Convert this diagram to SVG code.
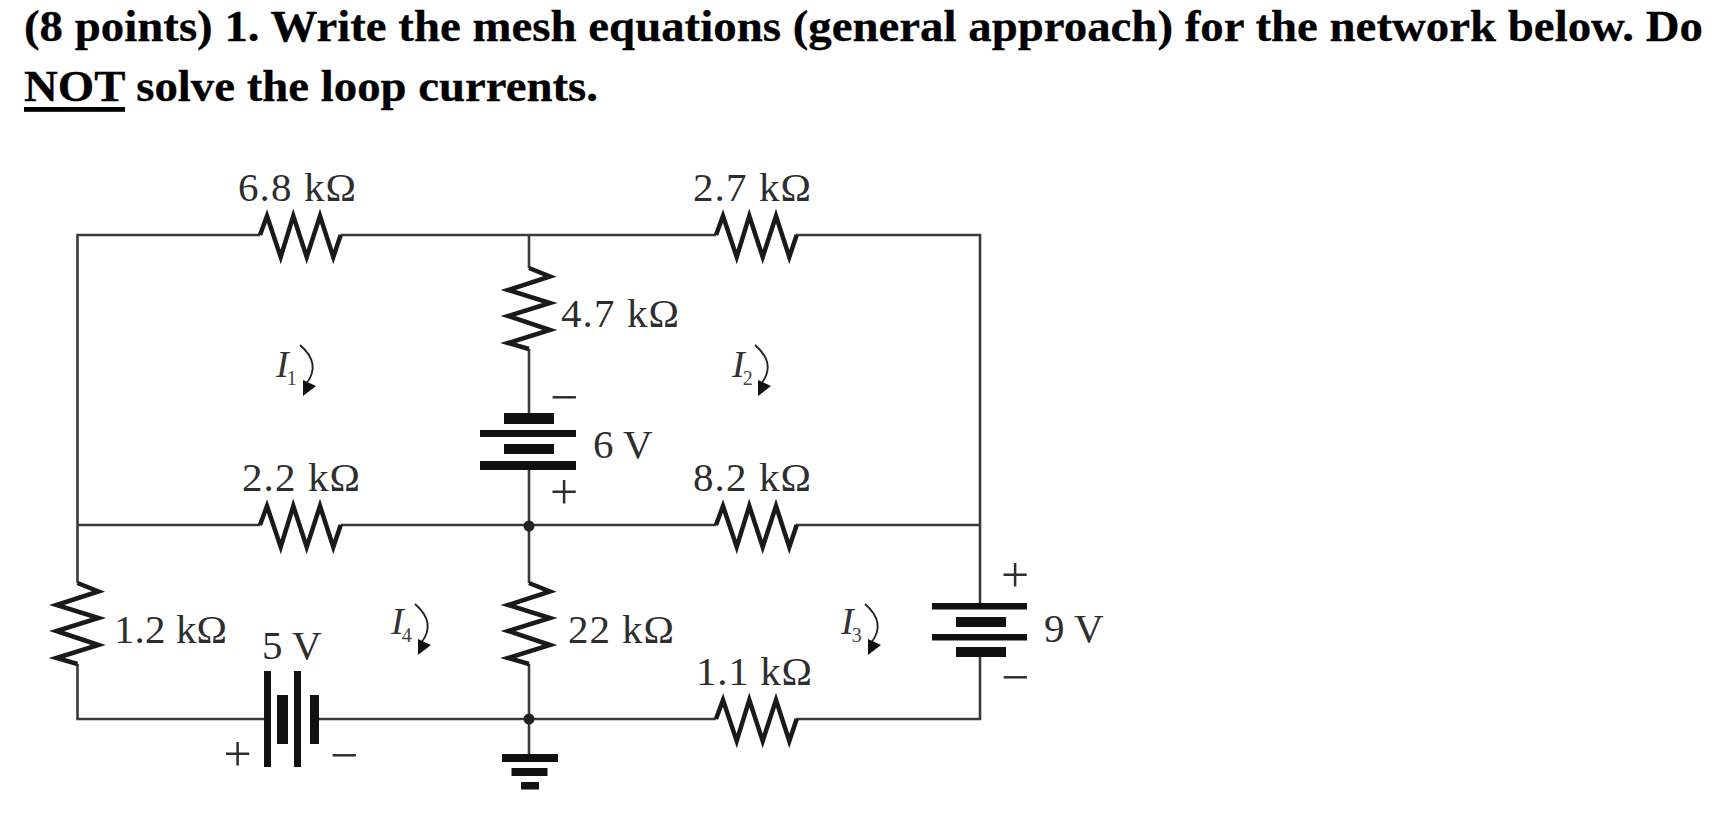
<svg xmlns="http://www.w3.org/2000/svg" width="1725" height="814" viewBox="0 0 1725 814">
<style>
.h{font-family:"Liberation Serif",serif;font-weight:bold;font-size:44px;fill:#000;stroke:#000;stroke-width:.3}
.l{font-family:"Liberation Serif",serif;font-size:41px;fill:#2e2e2e}
.s{font-family:"Liberation Serif",serif;font-size:50px;fill:#2e2e2e}
.i{font-family:"Liberation Serif",serif;font-style:italic;font-size:38px;fill:#333}
.sub{font-style:normal;font-size:20px;fill:#444}
.w{fill:none;stroke:#3a3a3a;stroke-width:2.600}
.r{fill:none;stroke:#1a1a1a;stroke-width:4.500;stroke-linejoin:miter;stroke-miterlimit:8}
.a{fill:none;stroke:#222;stroke-width:1.800}
.b{fill:#111}
</style>
<defs>
<path id="rh" class="r" d="M0 0L7 -19L20.700 22L33.300 -19L46.700 22L60 -19L73.300 22L80.700 0"/>
<path id="rv" class="r" d="M0 0L21 8.500L-21 22L21 35L-21 48L21 62L-21 75L0 81"/>
<g id="arc"><path class="a" d="M300 345Q322 364 306 384"/><path class="b" d="M303 396L303 380L316 386Z"/></g>
</defs>
<g id="heading">
<text class="h" x="24" y="41" textLength="1679" lengthAdjust="spacingAndGlyphs">(8 points) 1. Write the mesh equations (general approach) for the network below. Do</text>
<text class="h" x="24" y="100.700" textLength="574" lengthAdjust="spacingAndGlyphs">NOT solve the loop currents.</text>
<rect x="24" y="107" width="101" height="4.800" fill="#000"/>
</g>
<g id="connectors">
<path class="w" d="M260 235H77.500V583"/>
<path class="w" d="M340.700 235H716"/>
<path class="w" d="M796 235H980V603"/>
<path class="w" d="M77.500 525H260"/>
<path class="w" d="M340.700 525H716"/>
<path class="w" d="M796 525H980"/>
<path class="w" d="M529 235V268"/>
<path class="w" d="M529 349V413"/>
<path class="w" d="M529 470V583"/>
<path class="w" d="M529 664V754"/>
<path class="w" d="M77.500 664V719H264"/>
<path class="w" d="M318 719H716"/>
<path class="w" d="M796 719H980V657"/>
<circle cx="529" cy="526" r="5.500" fill="#222"/>
<circle cx="529" cy="719" r="5.500" fill="#222"/>
</g>
<g id="R1"><use href="#rh" x="260" y="235"/><text class="l" x="238" y="200.700" textLength="118">6.8 kΩ</text></g>
<g id="R2"><use href="#rh" x="716" y="235"/><text class="l" x="693" y="200.700" textLength="118">2.7 kΩ</text></g>
<g id="R3"><use href="#rv" x="529" y="268"/><text class="l" x="561" y="327" textLength="118">4.7 kΩ</text></g>
<g id="R4"><use href="#rh" x="260" y="525"/><text class="l" x="242" y="491" textLength="118">2.2 kΩ</text></g>
<g id="R5"><use href="#rh" x="716" y="525"/><text class="l" x="693" y="491" textLength="118">8.2 kΩ</text></g>
<g id="R6"><use href="#rv" x="77.500" y="583"/><text class="l" x="114" y="642.700" textLength="113">1.2 kΩ</text></g>
<g id="R7"><use href="#rv" x="529" y="583"/><text class="l" x="568" y="642.700" textLength="106">22 kΩ</text></g>
<g id="R8"><use href="#rh" x="716" y="719"/><text class="l" x="696" y="685" textLength="116">1.1 kΩ</text></g>
<g id="V6">
<rect class="b" x="504" y="413" width="50" height="11"/>
<rect class="b" x="480" y="430" width="96" height="7"/>
<rect class="b" x="504" y="444" width="50" height="10"/>
<rect class="b" x="480" y="461" width="96" height="9"/>
<text class="s" x="564" y="414" text-anchor="middle">−</text>
<text class="s" x="564" y="509" text-anchor="middle">+</text>
<text class="l" x="593" y="458">6 V</text>
</g>
<g id="V9">
<rect class="b" x="932" y="603" width="95" height="6.500"/>
<rect class="b" x="956" y="617" width="50" height="10"/>
<rect class="b" x="932" y="634" width="95" height="6.500"/>
<rect class="b" x="956" y="647" width="50" height="10"/>
<text class="s" x="1015" y="592" text-anchor="middle">+</text>
<text class="s" x="1015" y="694" text-anchor="middle">−</text>
<text class="l" x="1044" y="642">9 V</text>
</g>
<g id="V5">
<rect class="b" x="264" y="671" width="7" height="96"/>
<rect class="b" x="277" y="695" width="11" height="49"/>
<rect class="b" x="294" y="671" width="7" height="96"/>
<rect class="b" x="310" y="695" width="9" height="49"/>
<text class="s" x="237.500" y="771" text-anchor="middle">+</text>
<text class="s" x="344" y="772" text-anchor="middle">−</text>
<text class="l" x="262" y="658.700">5 V</text>
</g>
<g id="GND">
<rect class="b" x="502" y="754" width="56" height="8"/>
<rect class="b" x="511.500" y="768" width="36" height="8"/>
<rect class="b" x="521" y="782" width="18" height="7.500"/>
</g>
<g id="I1"><text class="i" x="276" y="376.700">I<tspan class="sub" dy="8" dx="-2">1</tspan></text><use href="#arc"/></g>
<g id="I2"><text class="i" x="732" y="376.700">I<tspan class="sub" dy="8" dx="-2">2</tspan></text><use href="#arc" x="455"/></g>
<g id="I3"><text class="i" x="841" y="634">I<tspan class="sub" dy="8" dx="-2">3</tspan></text><use href="#arc" x="565" y="259"/></g>
<g id="I4"><text class="i" x="391" y="634">I<tspan class="sub" dy="8" dx="-2">4</tspan></text><use href="#arc" x="115" y="259"/></g>
</svg>
